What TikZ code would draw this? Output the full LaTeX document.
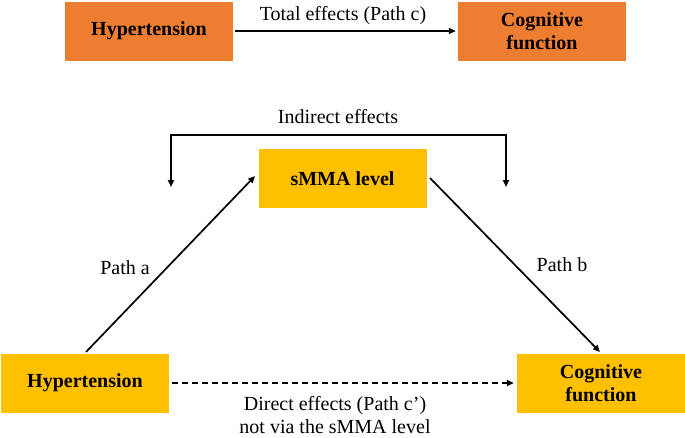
\documentclass[tikz,border=0pt]{standalone}
\usepackage{fontspec}
\setmainfont{Liberation Serif}
\usetikzlibrary{arrows.meta}
\definecolor{topor}{HTML}{ED7D31}
\definecolor{gold}{HTML}{FFC000}
\begin{document}
\begin{tikzpicture}[x=1pt,y=-1pt,
  box/.style={minimum width=168pt,minimum height=59pt,inner sep=0pt,align=center,
    font=\fontsize{20}{23}\selectfont\bfseries},
  orbox/.style={box,fill=topor},
  gdbox/.style={box,fill=gold},
  lbl/.style={font=\fontsize{20}{22.5}\selectfont,align=center},
  conn/.style={line width=1.7pt,-{Triangle[length=7pt,width=6pt]}}]
\useasboundingbox (0,0) rectangle (685,437);
\node[orbox] (h1) at (149,31) {Hypertension};
\node[orbox] (c1) at (542,31) {Cognitive\\function};
\node[gdbox] (s) at (342.5,178.5) {sMMA level};
\node[gdbox] (h2) at (85,383) {Hypertension};
\node[gdbox] (c2) at (601,383) {Cognitive\\function};
\draw[conn] ([xshift=2pt]h1.east) -- ([xshift=-2pt]c1.west);
\node[lbl] (tl) at (343,16) {Total effects (Path c)};
\coordinate (bl) at (171,187);
\coordinate (br) at (506,187);
\coordinate (tl1) at (171,135);
\coordinate (tr1) at (506,135);
\draw[conn] (tl1) -- (bl);
\draw[conn] (tr1) -- (br);
\draw[line width=1.7pt,line cap=rect] (tl1) -- (tr1);
\node[lbl] (il) at (338,117) {Indirect effects};
\coordinate (pa) at (86,352);
\draw[conn] (pa) -- (255,176);
\coordinate (pb) at (430,178);
\draw[conn] (pb) -- (600,352);
\node[lbl] (la) at (125,268) {Path a};
\node[lbl] (lb) at (562,265) {Path b};
\draw[conn,dash pattern=on 6pt off 4pt] ([xshift=3pt]h2.east) -- ([xshift=-3pt]c2.west);
\node[lbl] (dl) at (335,415) {Direct effects (Path c’)\\not via the sMMA level};
\end{tikzpicture}
\end{document}
